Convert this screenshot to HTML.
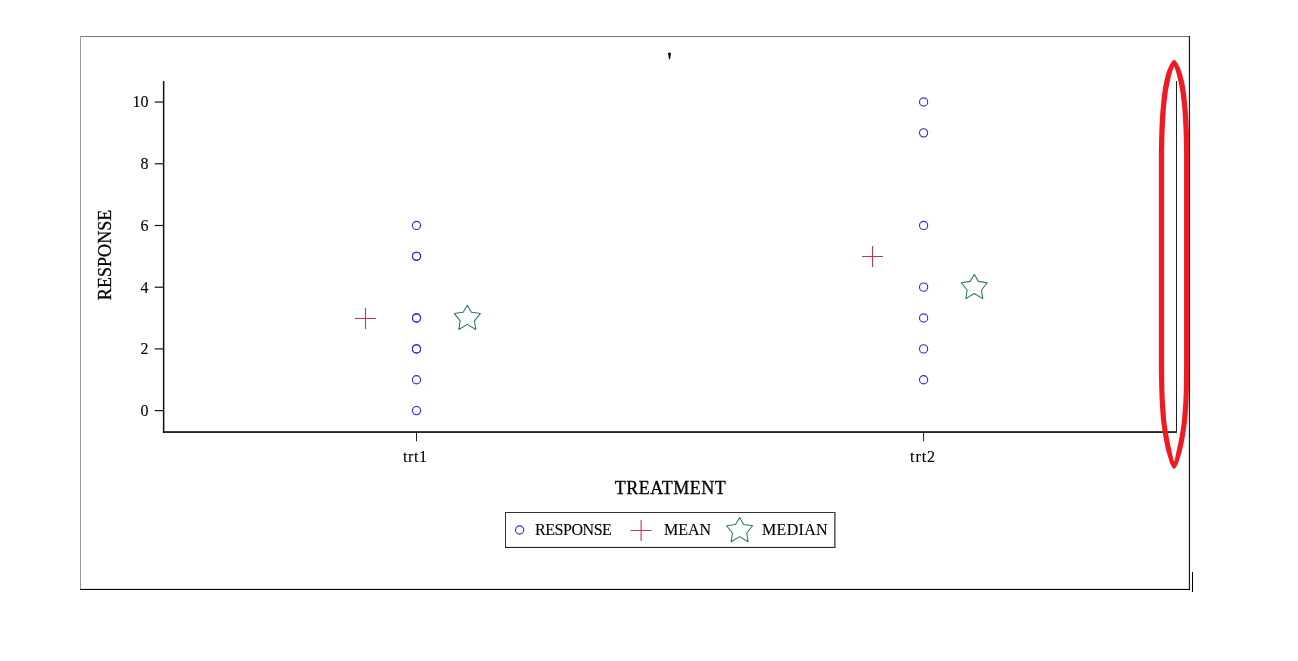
<!DOCTYPE html>
<html><head><meta charset="utf-8"><title>chart</title>
<style>
html,body{margin:0;padding:0;background:#fff;}
body{width:1298px;height:661px;overflow:hidden;position:relative;}
svg text{font-family:"Liberation Serif",serif;fill:#000;stroke:#000;stroke-width:0.12px;}
svg text.lab{stroke-width:0.3px;}
</style></head><body>
<svg width="1298" height="661" viewBox="0 0 1298 661" style="position:absolute;left:0;top:0;will-change:transform">
<rect x="80" y="36" width="1110" height="1" fill="#7a7a7a"/>
<rect x="80" y="36" width="1" height="554" fill="#9a9a9a"/>
<rect x="1188.85" y="36" width="1.2" height="554" fill="#1c1c1c"/>
<rect x="80" y="588.9" width="1110" height="1.1" fill="#000"/>
<rect x="1192" y="572" width="1" height="20" fill="#000"/>
<path d="M668 52.9 Q669.5 52.3 671 52.9 L670 59.2 H669 Z" fill="#000"/>
<rect x="162.9" y="81" width="1.5" height="352" fill="#111"/>
<rect x="162.9" y="431.2" width="1014" height="1.7" fill="#111"/>
<rect x="1176" y="81" width="1" height="351" fill="#222"/>
<rect x="154.7" y="410.05" width="8.5" height="1.2" fill="#111"/>
<text x="148.6" y="416.00" text-anchor="end" font-size="16">0</text>
<rect x="154.7" y="348.33" width="8.5" height="1.2" fill="#111"/>
<text x="148.6" y="354.28" text-anchor="end" font-size="16">2</text>
<rect x="154.7" y="286.61" width="8.5" height="1.2" fill="#111"/>
<text x="148.6" y="292.56" text-anchor="end" font-size="16">4</text>
<rect x="154.7" y="224.89" width="8.5" height="1.2" fill="#111"/>
<text x="148.6" y="230.84" text-anchor="end" font-size="16">6</text>
<rect x="154.7" y="163.17" width="8.5" height="1.2" fill="#111"/>
<text x="148.6" y="169.12" text-anchor="end" font-size="16">8</text>
<rect x="154.7" y="101.45" width="8.5" height="1.2" fill="#111"/>
<text x="148.6" y="107.40" text-anchor="end" font-size="16">10</text>
<rect x="416.00" y="432" width="1" height="9.3" fill="#222"/>
<text x="403.00" y="461.7" font-size="16" letter-spacing="0.58">trt1</text>
<rect x="923.10" y="432" width="1" height="9.3" fill="#222"/>
<text x="910.10" y="461.7" font-size="16" letter-spacing="0.9">trt2</text>
<text x="670.2" y="494.3" class="lab" text-anchor="middle" font-size="18" textLength="111" lengthAdjust="spacing">TREATMENT</text>
<text transform="translate(111.3 300.2) rotate(-90)" class="lab" font-size="18" textLength="90.5" lengthAdjust="spacing">RESPONSE</text>
<circle cx="416.50" cy="410.60" r="4.1" fill="none" stroke="#2a2ae0" stroke-width="1.1"/>
<circle cx="416.50" cy="379.74" r="4.1" fill="none" stroke="#2a2ae0" stroke-width="1.1"/>
<circle cx="416.50" cy="348.88" r="4.1" fill="none" stroke="#2a2ae0" stroke-width="1.1"/>
<circle cx="416.50" cy="348.88" r="4.1" fill="none" stroke="#2a2ae0" stroke-width="1.1"/>
<circle cx="416.50" cy="318.02" r="4.1" fill="none" stroke="#2a2ae0" stroke-width="1.1"/>
<circle cx="416.50" cy="318.02" r="4.1" fill="none" stroke="#2a2ae0" stroke-width="1.1"/>
<circle cx="416.50" cy="256.30" r="4.1" fill="none" stroke="#2a2ae0" stroke-width="1.1"/>
<circle cx="416.50" cy="256.30" r="4.1" fill="none" stroke="#2a2ae0" stroke-width="1.1"/>
<circle cx="416.50" cy="225.44" r="4.1" fill="none" stroke="#2a2ae0" stroke-width="1.1"/>
<circle cx="923.60" cy="379.74" r="4.1" fill="none" stroke="#2a2ae0" stroke-width="1.1"/>
<circle cx="923.60" cy="348.88" r="4.1" fill="none" stroke="#2a2ae0" stroke-width="1.1"/>
<circle cx="923.60" cy="318.02" r="4.1" fill="none" stroke="#2a2ae0" stroke-width="1.1"/>
<circle cx="923.60" cy="287.16" r="4.1" fill="none" stroke="#2a2ae0" stroke-width="1.1"/>
<circle cx="923.60" cy="225.44" r="4.1" fill="none" stroke="#2a2ae0" stroke-width="1.1"/>
<circle cx="923.60" cy="132.86" r="4.1" fill="none" stroke="#2a2ae0" stroke-width="1.1"/>
<circle cx="923.60" cy="102.00" r="4.1" fill="none" stroke="#2a2ae0" stroke-width="1.1"/>
<path d="M355.00 318.50H376.00M365.50 308.00V329.00" stroke="#c0384d" stroke-width="1.1" fill="none"/>
<path d="M862.00 256.50H883.00M872.50 246.00V267.00" stroke="#c0384d" stroke-width="1.1" fill="none"/>
<polygon points="467.30,305.27 471.40,312.22 480.30,313.57 474.45,320.82 475.75,329.52 467.30,324.42 458.85,329.52 460.15,320.82 454.30,313.57 463.20,312.22" fill="none" stroke="#28756f" stroke-width="1.05" stroke-linejoin="round"/>
<polygon points="974.30,274.41 978.40,281.36 987.30,282.71 981.45,289.96 982.75,298.66 974.30,293.56 965.85,298.66 967.15,289.96 961.30,282.71 970.20,281.36" fill="none" stroke="#28756f" stroke-width="1.05" stroke-linejoin="round"/>
<rect x="505" y="512" width="330.5" height="1" fill="#333"/>
<rect x="505" y="512" width="1" height="36" fill="#333"/>
<rect x="505" y="546.9" width="330.5" height="1.1" fill="#222"/>
<rect x="834.1" y="512" width="1.5" height="36" fill="#555"/>
<circle cx="519.60" cy="530.00" r="4.1" fill="none" stroke="#2a2ae0" stroke-width="1.1"/>
<text x="534.9" y="534.9" font-size="16" textLength="77" lengthAdjust="spacing">RESPONSE</text>
<path d="M630.60 530.50H651.60M641.10 520.00V541.00" stroke="#c0384d" stroke-width="1.1" fill="none"/>
<text x="664" y="534.9" font-size="16" textLength="47" lengthAdjust="spacing">MEAN</text>
<polygon points="739.60,517.45 743.70,524.40 752.60,525.75 746.75,533.00 748.05,541.70 739.60,536.60 731.15,541.70 732.45,533.00 726.60,525.75 735.50,524.40" fill="none" stroke="#28756f" stroke-width="1.05" stroke-linejoin="round"/>
<text x="762" y="534.9" font-size="16" textLength="65.6" lengthAdjust="spacing">MEDIAN</text>
<path d="M1158.85 151.90L1159.23 133.76L1159.61 123.81L1159.99 116.72L1160.38 111.52L1160.76 107.44L1161.14 103.41L1161.52 99.54L1161.90 96.05L1162.28 92.94L1162.66 90.24L1163.04 87.80L1163.42 85.60L1163.81 83.61L1164.19 81.77L1164.57 80.06L1164.95 78.48L1165.33 77.02L1165.71 75.64L1166.09 74.33L1166.47 73.10L1166.86 71.93L1167.24 70.83L1167.62 69.78L1168.00 68.80L1168.38 67.88L1168.76 67.02L1169.14 66.21L1169.52 65.42L1169.91 64.64L1170.29 63.91L1170.67 63.25L1171.05 62.69L1171.43 62.21L1171.81 61.73L1172.19 61.26L1172.57 60.83L1172.96 60.46L1173.34 60.16L1173.72 59.97L1174.10 59.90L1174.48 59.97L1174.86 60.16L1175.24 60.46L1175.62 60.83L1176.01 61.26L1176.39 61.73L1176.77 62.21L1177.15 62.69L1177.53 63.25L1177.91 63.91L1178.29 64.64L1178.67 65.42L1179.06 66.21L1179.44 67.02L1179.82 67.88L1180.20 68.80L1180.58 69.78L1180.96 70.83L1181.34 71.93L1181.72 73.10L1182.11 74.33L1182.49 75.64L1182.87 77.02L1183.25 78.48L1183.63 80.06L1184.01 81.77L1184.39 83.61L1184.77 85.60L1185.16 87.80L1185.54 90.24L1185.92 92.94L1186.30 96.05L1186.68 99.54L1187.06 103.41L1187.44 107.44L1187.82 111.52L1188.21 116.72L1188.59 123.81L1188.97 133.76L1189.35 151.90L1189.35 370.00L1188.97 388.13L1188.59 399.37L1188.21 406.43L1187.82 411.96L1187.44 417.24L1187.06 421.27L1186.68 424.27L1186.30 426.90L1185.92 429.57L1185.54 432.14L1185.16 434.57L1184.77 436.86L1184.39 439.03L1184.01 441.09L1183.63 443.04L1183.25 444.91L1182.87 446.71L1182.49 448.40L1182.11 449.98L1181.72 451.44L1181.34 452.81L1180.96 454.11L1180.58 455.35L1180.20 456.56L1179.82 457.74L1179.44 458.94L1179.06 460.17L1178.67 461.39L1178.29 462.56L1177.91 463.63L1177.53 464.56L1177.15 465.32L1176.77 465.94L1176.39 466.56L1176.01 467.15L1175.62 467.68L1175.24 468.13L1174.86 468.49L1174.48 468.72L1174.10 468.80L1173.72 468.72L1173.34 468.49L1172.96 468.13L1172.57 467.68L1172.19 467.15L1171.81 466.56L1171.43 465.94L1171.05 465.32L1170.67 464.56L1170.29 463.63L1169.91 462.56L1169.52 461.39L1169.14 460.17L1168.76 458.94L1168.38 457.74L1168.00 456.56L1167.62 455.35L1167.24 454.11L1166.86 452.81L1166.47 451.44L1166.09 449.98L1165.71 448.40L1165.33 446.71L1164.95 444.91L1164.57 443.04L1164.19 441.09L1163.81 439.03L1163.42 436.86L1163.04 434.57L1162.66 432.14L1162.28 429.57L1161.90 426.90L1161.52 424.27L1161.14 421.27L1160.76 417.24L1160.38 411.96L1159.99 406.43L1159.61 399.37L1159.23 388.13L1158.85 370.00ZM1164.15 151.90L1164.40 138.57L1164.65 130.26L1164.90 124.80L1165.14 120.54L1165.39 116.75L1165.64 112.80L1165.89 108.86L1166.14 105.54L1166.39 103.23L1166.64 101.42L1166.89 99.50L1167.13 97.37L1167.38 95.24L1167.63 93.28L1167.88 91.58L1168.13 90.02L1168.38 88.56L1168.63 87.18L1168.88 85.85L1169.12 84.55L1169.37 83.29L1169.62 82.07L1169.87 80.89L1170.12 79.76L1170.37 78.67L1170.62 77.63L1170.87 76.61L1171.12 75.60L1171.36 74.61L1171.61 73.66L1171.86 72.74L1172.11 71.88L1172.36 71.08L1172.61 70.35L1172.86 69.67L1173.11 68.95L1173.35 68.26L1173.60 67.67L1173.85 67.25L1174.10 67.10L1174.35 67.25L1174.60 67.67L1174.85 68.26L1175.09 68.95L1175.34 69.67L1175.59 70.35L1175.84 71.08L1176.09 71.88L1176.34 72.74L1176.59 73.66L1176.84 74.61L1177.08 75.60L1177.33 76.61L1177.58 77.63L1177.83 78.67L1178.08 79.76L1178.33 80.89L1178.58 82.07L1178.83 83.29L1179.07 84.55L1179.32 85.85L1179.57 87.18L1179.82 88.56L1180.07 90.02L1180.32 91.58L1180.57 93.28L1180.82 95.24L1181.06 97.37L1181.31 99.50L1181.56 101.42L1181.81 103.23L1182.06 105.54L1182.31 108.86L1182.56 112.80L1182.81 116.75L1183.05 120.54L1183.30 124.80L1183.55 130.26L1183.80 138.57L1184.05 151.90L1184.05 370.00L1183.80 389.59L1183.55 397.04L1183.30 401.99L1183.05 405.76L1182.81 408.90L1182.56 412.21L1182.31 415.97L1182.06 419.35L1181.81 421.77L1181.56 423.75L1181.31 425.49L1181.06 427.16L1180.82 428.84L1180.57 430.46L1180.32 432.01L1180.07 433.51L1179.82 434.98L1179.57 436.41L1179.32 437.81L1179.07 439.17L1178.83 440.50L1178.58 441.80L1178.33 443.06L1178.08 444.27L1177.83 445.45L1177.58 446.59L1177.33 447.73L1177.08 448.87L1176.84 450.03L1176.59 451.22L1176.34 452.46L1176.09 453.70L1175.84 454.93L1175.59 456.11L1175.34 457.21L1175.09 458.24L1174.85 459.37L1174.60 460.46L1174.35 461.28L1174.10 461.60L1173.85 461.28L1173.60 460.46L1173.35 459.37L1173.11 458.24L1172.86 457.21L1172.61 456.11L1172.36 454.93L1172.11 453.70L1171.86 452.46L1171.61 451.22L1171.36 450.03L1171.12 448.87L1170.87 447.73L1170.62 446.59L1170.37 445.45L1170.12 444.27L1169.87 443.06L1169.62 441.80L1169.37 440.50L1169.12 439.17L1168.88 437.81L1168.63 436.41L1168.38 434.98L1168.13 433.51L1167.88 432.01L1167.63 430.46L1167.38 428.84L1167.13 427.16L1166.89 425.49L1166.64 423.75L1166.39 421.77L1166.14 419.35L1165.89 415.97L1165.64 412.21L1165.39 408.90L1165.14 405.76L1164.90 401.99L1164.65 397.04L1164.40 389.59L1164.15 370.00Z" fill="#ed1c24" fill-rule="evenodd"/>
</svg>
</body></html>
